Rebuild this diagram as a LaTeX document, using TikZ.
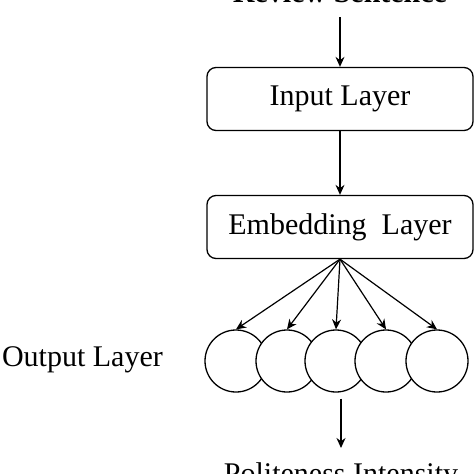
\documentclass[tikz,border=0pt]{standalone}
\usepackage{fontspec}
\setmainfont{Liberation Serif}
\usepackage{tikz}
\usetikzlibrary{positioning}
\usetikzlibrary{arrows.meta}

\begin{document}
\begin{tikzpicture}[
  x=1pt, y=-1pt,
  font=\fontsize{30}{36}\selectfont,
  arrow/.style={-{Stealth[length=10pt, width=9pt]}, line width=1.2pt},
  layer/.style={draw, line width=1.3pt, rounded corners=9pt, minimum width=266pt, minimum height=63pt, inner sep=0pt},
  neuron/.style={draw, circle, fill=white, line width=1.3pt, minimum size=62pt, inner sep=0pt},
  label/.style={inner sep=2pt}
]
\useasboundingbox (0,0) rectangle (474,474);

% Input and embedding layers
\node[label, anchor=base, font=\fontsize{30}{36}\selectfont\bfseries] (review) at (340,2) {Review Sentence};
\node[layer] (input) at (340,99) {Input Layer};
\node[layer] (embed) at (340,227) {Embedding\ \ Layer};

\draw[arrow, shorten <=13pt] (review) -- (input);
\draw[arrow] (input) -- (embed);

% Output neurons
\foreach \i/\x in {1/236, 2/287, 3/336, 4/386, 5/437} {
  \node[neuron] (n\i) at (\x,361) {};
  \draw[arrow] (embed.south) -- (n\i.north);
}

\node[label, anchor=base east, inner sep=0pt] (outlabel) at (163,366) {Output Layer};

\node[label, anchor=base] (polite) at (341,483) {Politeness Intensity};
\draw[arrow, shorten <=6pt, shorten >=12pt] (n3.south -| polite) -- (polite);

\end{tikzpicture}
\end{document}
